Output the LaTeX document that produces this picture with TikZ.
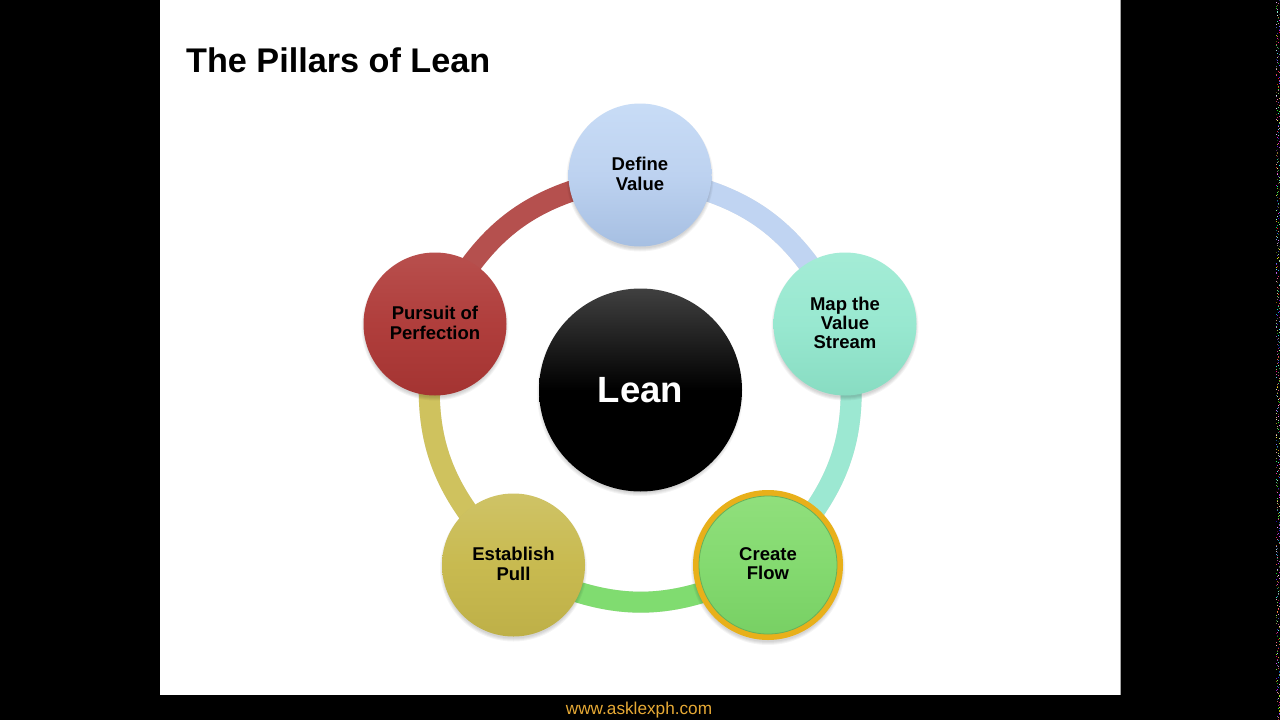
\documentclass[tikz,border=0pt]{standalone}
\usepackage{fontspec}
\setmainfont{Liberation Sans}
\pgfdeclarelayer{slide}
\pgfdeclarelayer{ring}
\pgfsetlayers{slide,ring,main}
\definecolor{arcblue}{HTML}{C0D4F2}
\definecolor{arcteal}{HTML}{9CE8D2}
\definecolor{arcgreen}{HTML}{80DC70}
\definecolor{arcyellow}{HTML}{CFC25E}
\definecolor{arcred}{HTML}{B5504E}
\definecolor{goldring}{HTML}{E8B01A}
\definecolor{footergold}{HTML}{E6A935}
\definecolor{bluetop}{HTML}{C8DCF6}\definecolor{bluemid}{HTML}{BDD2F0}\definecolor{bluebot}{HTML}{A6BFE2}
\definecolor{tealtop}{HTML}{A4ECD6}\definecolor{tealmid}{HTML}{98E8D0}\definecolor{tealbot}{HTML}{88DCC2}
\definecolor{greentop}{HTML}{90DF7C}\definecolor{greenmid}{HTML}{84DA70}\definecolor{greenbot}{HTML}{78D064}
\definecolor{yellowtop}{HTML}{CFC366}\definecolor{yellowmid}{HTML}{C8BA50}\definecolor{yellowbot}{HTML}{BEB048}
\definecolor{redtop}{HTML}{B84F4D}\definecolor{redmid}{HTML}{B03E3C}\definecolor{redbot}{HTML}{A43432}
\definecolor{hubtop}{HTML}{404040}
\tikzset{
  x=1pt,y=-1pt,
  pillar/.style={circle,minimum size=143pt,inner sep=0pt,outer sep=0pt,align=center,text depth=2.5pt,
    font=\bfseries\fontsize{18.5}{19.4}\selectfont,text=black},
  pillarblue/.style={pillar,top color=bluetop,bottom color=bluebot,middle color=bluemid},
  pillarteal/.style={pillar,top color=tealtop,bottom color=tealbot,middle color=tealmid},
  pillargreen/.style={pillar,top color=greentop,bottom color=greenbot,middle color=greenmid},
  pillaryellow/.style={pillar,top color=yellowtop,bottom color=yellowbot,middle color=yellowmid},
  pillarred/.style={pillar,top color=redtop,bottom color=redbot,middle color=redmid},
  hub/.style={circle,minimum size=203pt,inner sep=0pt,outer sep=0pt,align=center,
    top color=hubtop,bottom color=black,middle color=black,text=white,
    font=\bfseries\fontsize{36.5}{40}\selectfont},
  ringarc/.style={line width=21pt,line cap=butt,bend left=27,looseness=1.1},
  arcshadow/.style={ringarc,draw=black,opacity=0.10,yshift=-1.5pt},
}
\newcommand{\softshadow}[3]{%
  \foreach \d in {0,1,2,3}{\fill[black,opacity=0.045] (#1,#2+3) circle[radius=#3+\d-1];}}
\begin{document}
\begin{tikzpicture}
\useasboundingbox (0,0) rectangle (1280,720);
\begin{pgfonlayer}{slide}
\fill[black] (0,0) rectangle (1280,720);
\fill[white] (160,0) rectangle (1120.5,695);
\draw[gray!70,line width=0.8pt] (1120.8,0) -- (1120.8,695);
\pgfmathsetseed{7}
\foreach \i in {0,...,479}{
  \pgfmathsetmacro{\yy}{\i*1.5}
  \pgfmathsetmacro{\xx}{1275.5+4*rnd}
  \pgfmathsetmacro{\rr}{rnd}
  \pgfmathsetmacro{\gg}{rnd}
  \pgfmathsetmacro{\bb}{rnd}
  \definecolor{noisecol}{rgb}{\rr,\gg,\bb}
  \fill[noisecol] (\xx,\yy) rectangle ++(1,1);
}
\end{pgfonlayer}
\node[anchor=base west,inner sep=0pt,font=\bfseries\fontsize{34.2}{36}\selectfont] (title) at (186,72) {The Pillars of Lean};
\softshadow{640}{175}{71.5}
\softshadow{845}{324}{71.5}
\softshadow{768}{565}{75}
\softshadow{513.5}{565}{71.5}
\softshadow{435}{324}{71.5}
\softshadow{640}{390}{101}
\node[pillarblue] (define) at (640,175) {Define\\Value};
\node[pillarteal] (map) at (845,324) {Map the\\Value\\Stream};
\node[circle,minimum size=150pt,inner sep=0pt,fill=goldring] (flowring) at (768,565) {};
\node[pillargreen,minimum size=138pt,draw=black!20!arcgreen,line width=0.8pt] (flow) at (768,565) {Create\\Flow};
\node[pillaryellow] (pull) at (513.5,565) {Establish\\Pull};
\node[pillarred] (perfection) at (435,324) {Pursuit of\\Perfection};
\node[hub] (lean) at (640.5,390) {Lean};
\begin{pgfonlayer}{ring}
\draw[arcshadow] (define.center) to (map.center);
\draw[arcshadow] (map.center) to (flow.center);
\draw[arcshadow] (flow.center) to (pull.center);
\draw[arcshadow] (pull.center) to (perfection.center);
\draw[arcshadow] (perfection.center) to (define.center);
\draw[ringarc,draw=arcblue] (define.center) to (map.center);
\draw[ringarc,draw=arcteal] (map.center) to (flow.center);
\draw[ringarc,draw=arcgreen] (flow.center) to (pull.center);
\draw[ringarc,draw=arcyellow] (pull.center) to (perfection.center);
\draw[ringarc,draw=arcred] (perfection.center) to (define.center);
\end{pgfonlayer}
\node[font=\fontsize{17.2}{18}\selectfont,text=footergold] (footer) at (639,710) {www.asklexph.com};
\end{tikzpicture}
\end{document}
